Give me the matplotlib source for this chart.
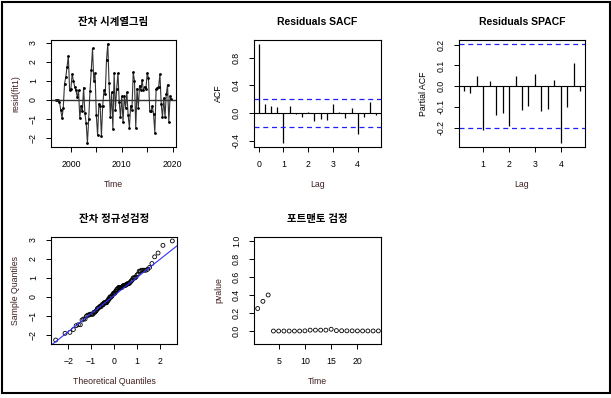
import numpy as np
import matplotlib
matplotlib.use('Agg')
import matplotlib.pyplot as plt
from matplotlib.patches import Rectangle
from statistics import NormalDist

plt.rcParams['font.family'] = ['Liberation Sans', 'Noto Sans CJK KR', 'DejaVu Sans']

# 잔차 (분기별, 1997 Q1 ~ 2019 Q4)
resid = [0.0, 0.0, 0.0, -0.1, -0.5, -0.95, -0.4, 0.85, 1.2, 1.75,
         2.3, 0.5, 0.6, 1.35, 1.0, 0.7, 0.5, 0.15, 0.5, -0.95,
         -0.3, -0.6, 0.65, -0.7, -1.2, -2.25, -1.0, 0.45, 1.55, 2.7,
         1.0, 1.4, -0.8, -1.85, -0.2, -0.3, -1.9, -0.3, 0.5, 0.3,
         2.1, 2.93, 0.9, -0.9, 0.4, -1.5, 1.4, -0.5, 0.6, 1.4,
         -0.1, -0.9, 0.2, -1.15, 0.2, -0.4, 0.4, -0.8, -1.45, -0.3,
         -0.5, 1.45, 1.0, -1.45, 0.6, -0.4, 0.75, 0.5, 1.05, 0.5,
         0.7, 0.6, 1.4, 1.15, -0.55, -0.6, -0.3, -0.75, -1.7, 0.55,
         0.65, 0.7, 1.35, -0.2, -0.9, 0.1, -0.9, 0.3, 0.8, -1.15,
         0.2, 0.05]
start_year = 1997
freq = 4

acf_vals = [1.0, 0.125, 0.105, 0.09, -0.435, 0.095, -0.015, -0.065, 0.01, -0.12,
            -0.08, -0.1, 0.13, 0.01, -0.075, 0.07, -0.3, -0.065, 0.165, -0.035]
pacf_vals = [-0.025, -0.035, 0.05, -0.21, 0.023, -0.14, -0.13, -0.195, 0.05, -0.115,
             -0.095, 0.06, -0.12, -0.11, 0.032, -0.275, -0.1, 0.113, -0.025]
conf_bound = 0.204

lb_lags = list(range(1, 25))
lb_pvalues = [0.25, 0.33, 0.40, 0.0, 0.0, 0.0, 0.0, 0.0, 0.0, 0.002, 0.01, 0.01,
              0.01, 0.01, 0.02, 0.005, 0.003, 0.002, 0.002, 0.001, 0.001, 0.001, 0.001, 0.001]

W, H = 611, 398
fig = plt.figure(figsize=(W / 100, H / 100), dpi=100)
lab_col = '#402020'


def add_ax(l, t, r, b):
    return fig.add_axes([l / W, 1 - b / H, (r - l) / W, (b - t) / H])


def style(ax, title, xlabel, ylabel, ylab_col=lab_col):
    ax.set_title(title, fontsize=7.5, fontweight='bold', pad=11)
    ax.set_xlabel(xlabel, fontsize=6.3, color=lab_col, labelpad=8)
    ax.set_ylabel(ylabel, fontsize=6.3, color=ylab_col, labelpad=6)
    ax.tick_params(labelsize=6.3, length=3.5, width=0.7, pad=6, direction='out')
    ax.tick_params(axis='y', labelrotation=90)
    for lbl in ax.get_yticklabels():
        lbl.set_va('center')
    for s in ax.spines.values():
        s.set_linewidth(0.8)


def r_lim(v):
    lo, hi = min(v), max(v)
    d = (hi - lo) * 0.04
    return lo - d, hi + d


# 1. 잔차 시계열그림
t = start_year + np.arange(len(resid)) / freq
ax1 = add_ax(51, 40, 176, 147)
ax1.plot(t, resid, color='#333333', lw=0.8, marker='o', ms=1.0, mfc='black', mec='black')
ax1.axhline(0, color='#303030', lw=1.0)
ax1.set_xlim(*r_lim(t))
ax1.set_ylim(*r_lim(resid))
ax1.set_xticks([2000, 2005, 2010, 2015, 2020])
ax1.set_xticklabels(['2000', '', '2010', '', '2020'])
ax1.set_yticks([-2, -1, 0, 1, 2, 3])
style(ax1, '잔차 시계열그림', 'Time', 'resid(fit1)')

# 2. Residuals SACF
lags_acf = np.arange(len(acf_vals)) / freq
ax2 = add_ax(254, 40, 381, 147)
ax2.vlines(lags_acf, 0, acf_vals, color='black', lw=0.9)
ax2.axhline(0, color='black', lw=0.8)
for b in (conf_bound, -conf_bound):
    ax2.axhline(b, color='#2020ff', lw=0.9, ls=(0, (4, 3)))
ax2.set_xlim(*r_lim(lags_acf))
ax2.set_ylim(*r_lim(acf_vals + [-conf_bound, conf_bound]))
ax2.set_xticks([0, 1, 2, 3, 4])
ax2.set_yticks([-0.4, 0.0, 0.4, 0.8])
ax2.set_yticklabels(['-0.4', '0.0', '0.4', '0.8'])
style(ax2, 'Residuals SACF', 'Lag', 'ACF', ylab_col='black')

# 3. Residuals SPACF
lags_pacf = np.arange(1, len(pacf_vals) + 1) / freq
ax3 = add_ax(459, 40, 585, 147)
ax3.vlines(lags_pacf, 0, pacf_vals, color='black', lw=0.9)
ax3.axhline(0, color='black', lw=0.8)
for b in (conf_bound, -conf_bound):
    ax3.axhline(b, color='#2020ff', lw=0.9, ls=(0, (4, 3)))
ax3.set_xlim(*r_lim(lags_pacf))
ax3.set_ylim(*r_lim(pacf_vals + [-conf_bound, conf_bound]))
ax3.set_xticks([1, 2, 3, 4])
ax3.set_yticks([-0.2, -0.1, 0.0, 0.1, 0.2])
ax3.set_yticklabels(['-0.2', '-0.1', '0.0', '0.1', '0.2'])
style(ax3, 'Residuals SPACF', 'Lag', 'Partial ACF', ylab_col='black')

# 4. 잔차 정규성검정 (QQ plot)
n = len(resid)
a = 3 / 8 if n <= 10 else 0.5
pp = [(i + 1 - a) / (n + 1 - 2 * a) for i in range(n)]
theo = np.array([NormalDist().inv_cdf(p) for p in pp])
samp = np.sort(resid)
q25, q75 = np.percentile(resid, [25, 75])
z25, z75 = NormalDist().inv_cdf(0.25), NormalDist().inv_cdf(0.75)
slope = (q75 - q25) / (z75 - z25)
icpt = q25 - slope * z25
ax4 = add_ax(51, 237, 177, 344)
ax4.scatter(theo, samp, s=8, facecolors='none', edgecolors='black', linewidths=0.6)
ax4.set_xlim(*r_lim(theo))
ax4.set_ylim(*r_lim(samp))
xx = np.array(ax4.get_xlim())
ax4.plot(xx, icpt + slope * xx, color='#3030ff', lw=0.8)
ax4.set_xlim(*r_lim(theo))
ax4.set_xticks([-2, -1, 0, 1, 2])
ax4.set_yticks([-2, -1, 0, 1, 2, 3])
style(ax4, '잔차 정규성검정', 'Theoretical Quantiles', 'Sample Quantiles')

# 5. 포트맨토 검정
ax5 = add_ax(254, 237, 381, 344)
ax5.scatter(lb_lags, lb_pvalues, s=8, facecolors='none', edgecolors='black', linewidths=0.6)
ax5.set_xlim(0.3, 24.5)
ax5.set_ylim(-0.144, 1.044)
ax5.set_xticks([5, 10, 15, 20])
ax5.set_yticks([0.0, 0.2, 0.4, 0.6, 0.8, 1.0])
ax5.set_yticklabels(['0.0', '0.2', '0.4', '0.6', '0.8', '1.0'])
style(ax5, '포트맨토 검정', 'Time', 'pvalue')

# 바깥 테두리
fig.patches.append(Rectangle((1.5 / W, 1 - 393 / H), 608.5 / W, 391.5 / H,
                             transform=fig.transFigure, fill=False,
                             edgecolor='black', lw=1.5))

fig.savefig('out.png', dpi=100)
